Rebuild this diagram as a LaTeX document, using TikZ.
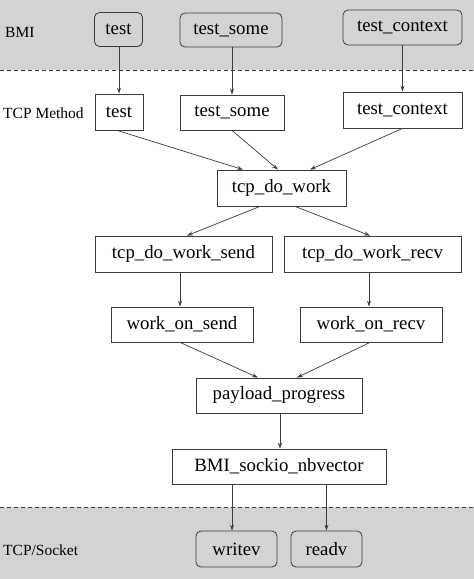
\documentclass[tikz,border=0pt]{standalone}
\usepackage{fontspec}
\setmainfont{Liberation Serif}
\usetikzlibrary{arrows.meta,calc}
\definecolor{bandgray}{RGB}{211,211,211}
\definecolor{linegray}{RGB}{60,60,60}
\tikzset{
  fn/.style={draw=linegray, line width=0.8pt, fill=white, inner sep=0pt,
    font=\fontsize{18.8}{20}\selectfont},
  rfn/.style={fn, rounded corners=5pt, fill=bandgray},
  lbl/.style={anchor=west, inner sep=0pt, font=\fontsize{15.5}{17}\selectfont},
  arr/.style={draw=linegray, line width=0.7pt, -{Stealth[length=6pt,width=4pt]}},
  sep/.style={draw=linegray, line width=0.8pt, dash pattern=on 4pt off 3pt}
}
\begin{document}
\begin{tikzpicture}[x=1pt,y=-1pt]
\useasboundingbox (0,0) rectangle (474,579);
\fill[bandgray] (0,0) rectangle (474,70);
\fill[bandgray] (0,507) rectangle (474,579);
\draw[sep] (0,70) -- (474,70);
\draw[sep] (0,507) -- (474,507);

\node[lbl] (lbmi) at (5,32) {BMI};
\node[lbl] (ltcp) at (3,113) {TCP Method};
\node[lbl] (lsock) at (3,550) {TCP/Socket};

\node[rfn, minimum width=48pt, minimum height=34pt] (bmitest) at (118.5,29.5) {test};
\node[rfn, minimum width=102pt, minimum height=34pt] (bmisome) at (231,30) {test\_some};
\node[rfn, minimum width=119pt, minimum height=35pt] (bmictx) at (402.5,27.5) {test\_context};

\node[fn, minimum width=48pt, minimum height=36pt] (tcptest) at (119,112) {test};
\node[fn, minimum width=104pt, minimum height=35pt] (tcpsome) at (232,112.5) {test\_some};
\node[fn, minimum width=119pt, minimum height=36pt] (tcpctx) at (402.5,110) {test\_context};

\node[fn, minimum width=129pt, minimum height=36pt] (dowork) at (281.5,188) {tcp\_do\_work};
\node[fn, minimum width=177pt, minimum height=36pt] (send) at (183.5,254) {tcp\_do\_work\_send};
\node[fn, minimum width=177pt, minimum height=36pt] (recv) at (372.5,254) {tcp\_do\_work\_recv};
\node[fn, minimum width=142pt, minimum height=35pt] (wos) at (182,324.5) {work\_on\_send};
\node[fn, minimum width=142pt, minimum height=35pt] (wor) at (371,324.5) {work\_on\_recv};
\node[fn, minimum width=166pt, minimum height=35pt] (payload) at (279,395.5) {payload\_progress};
\node[fn, minimum width=214pt, minimum height=35pt] (nbvec) at (279,466.5) {BMI\_sockio\_nbvector};

\node[rfn, minimum width=81pt, minimum height=36pt] (writev) at (236.5,549) {writev};
\node[rfn, minimum width=71pt, minimum height=36pt] (readv) at (326.5,549) {readv};

\draw[arr] (bmitest.south -| tcptest.north) -- (tcptest.north);
\draw[arr] (bmisome.south -| tcpsome.north) -- (tcpsome.north);
\draw[arr] (bmictx) -- (tcpctx);

\draw[arr] ([xshift=-2pt]tcptest.south) -- ([xshift=-38.5pt]dowork.north);
\draw[arr] (tcpsome.south) -- ([xshift=-3.5pt]dowork.north);
\draw[arr] (tcpctx.south) -- ([xshift=28.5pt]dowork.north);

\draw[arr] ([xshift=-21.5pt]dowork.south) -- ([xshift=3.5pt]send.north);
\draw[arr] ([xshift=13.5pt]dowork.south) -- ([xshift=-2.5pt]recv.north);

\draw[arr] ([xshift=-2pt]wos.north |- send.south) -- ([xshift=-2pt]wos.north);
\draw[arr] ([xshift=-2pt]wor.north |- recv.south) -- ([xshift=-2pt]wor.north);

\draw[arr] ([xshift=-2pt]wos.south) -- ([xshift=-21pt]payload.north);
\draw[arr] ([xshift=-1pt]wor.south) -- ([xshift=18pt]payload.north);

\draw[arr] ([xshift=1pt]payload.south) -- ([xshift=1pt]nbvec.north);

\draw[arr] ([xshift=-47pt]nbvec.south) -- ([xshift=-47pt]nbvec.south |- writev.north);
\draw[arr] (readv.north |- nbvec.south) -- (readv.north);
\end{tikzpicture}
\end{document}
